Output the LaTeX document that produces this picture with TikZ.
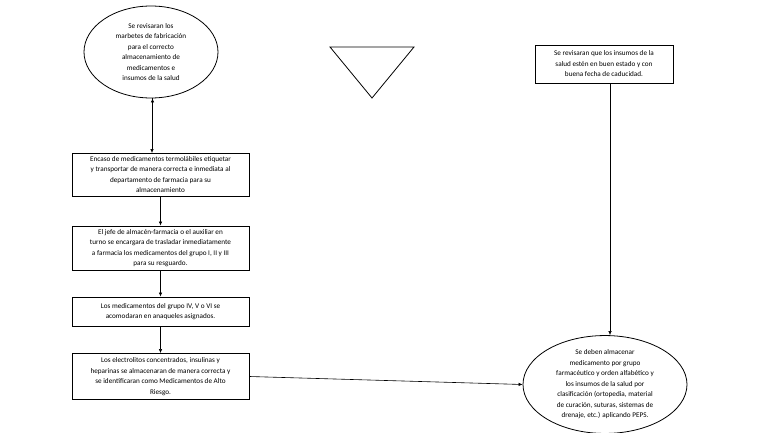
\documentclass[tikz,border=0pt]{standalone}
\usepackage{fontspec}
\setmainfont{Carlito}
\usetikzlibrary{shapes.geometric,arrows.meta}
\begin{document}
\begin{tikzpicture}[x=1pt,y=-1pt,
  txt/.style={font=\fontsize{7.2}{10.5}\selectfont,align=center},
  box/.style={draw,line width=0.8pt,txt,inner sep=0pt},
  ell/.style={draw,line width=0.8pt,ellipse,txt,inner sep=0pt},
  arr/.style={draw,line width=0.6pt,-{Latex[length=4pt,width=3.5pt]}}]
\useasboundingbox (0,0) rectangle (768,433);
\node[ell,minimum width=134pt,minimum height=92pt] (e1) at (151,52) {Se revisaran los\\marbetes de fabricación\\para el correcto\\almacenamiento de\\medicamentos e\\insumos de la salud};
\node[box,minimum width=177pt,minimum height=43pt] (b1) at (160.5,174.5) {Encaso de medicamentos termolábiles etiquetar\\y transportar de manera correcta e inmediata al\\departamento de farmacia para su\\almacenamiento};
\node[box,minimum width=177pt,minimum height=44pt] (b2) at (160.5,248) {El jefe de almacén-farmacia o el auxiliar en\\turno se encargara de trasladar inmediatamente\\a farmacia los medicamentos del grupo I, II y III\\para su resguardo.};
\node[box,minimum width=177pt,minimum height=29pt] (b3) at (160.5,311.5) {Los medicamentos del grupo IV, V o VI se\\acomodaran en anaqueles asignados.};
\node[box,minimum width=177pt,minimum height=46pt] (b4) at (160.5,376.5) {Los electrolitos concentrados, insulinas y\\heparinas se almacenaran de manera correcta y\\se identificaran como Medicamentos de Alto\\Riesgo.};
\node[box,minimum width=138pt,minimum height=38pt] (b5) at (604,64) {Se revisaran que los insumos de la\\salud estén en buen estado y con\\buena fecha de caducidad.};
\node[ell,minimum width=164pt,minimum height=87pt] (e2) at (605,384.5) {Se deben almacenar\\medicamento por grupo\\farmacéutico y orden alfabético y\\los insumos de la salud por\\clasificación (ortopedia, material\\de curación, suturas, sistemas de\\drenaje, etc.) aplicando PEPS.};
\coordinate (t1) at (330,47); \coordinate (t2) at (414,47); \coordinate (t3) at (372,98);
\draw[line width=0.8pt] (t1) -- (t2) -- (t3) -- cycle;
\draw[arr] (e1.south -| b1.center) ++(-8,0) coordinate (s1);
\draw[arr] (152,98) -- (152,153);
\draw[arr] (b1.south) -- (b2.north);
\draw[arr] (b2.south) -- (b3.north);
\draw[arr] (b3.south) -- (b4.north);
\draw[arr] (b4.east) -- (e2.west);
\draw[arr] (b5.south -| 610,0) -- (e2.north -| 610,0);
\end{tikzpicture}
\end{document}
